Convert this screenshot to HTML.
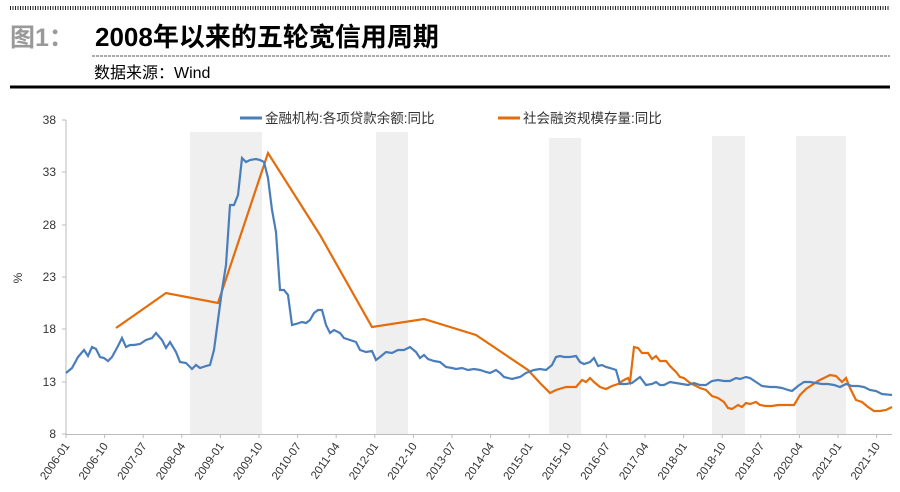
<!DOCTYPE html><html><head><meta charset="utf-8"><style>
body{margin:0;width:900px;height:492px;background:#fff;overflow:hidden;font-family:"Liberation Sans","Noto Sans CJK SC",sans-serif}
</style></head><body>
<svg width="900" height="492" xmlns="http://www.w3.org/2000/svg" style="position:absolute;left:0;top:0">
<line x1="10" y1="8" x2="890" y2="8" stroke="#222" stroke-width="4" stroke-dasharray="1,1.5"/>
<text x="10" y="46" font-size="25" font-weight="bold" fill="#999" font-family="Liberation Sans,Noto Sans CJK SC,sans-serif">图1：</text>
<text x="95" y="46" font-size="26" font-weight="bold" fill="#000" font-family="Liberation Sans,Noto Sans CJK SC,sans-serif">2008年以来的五轮宽信用周期</text>
<line x1="92" y1="56" x2="890" y2="56" stroke="#555" stroke-width="1" stroke-dasharray="3,1"/>
<text x="94" y="78" font-size="16" fill="#000" font-family="Liberation Sans,Noto Sans CJK SC,sans-serif">数据来源：Wind</text>
<line x1="10" y1="87" x2="890" y2="87" stroke="#000" stroke-width="3"/>
<g fill="#efefef">
<rect x="190" y="132" width="72" height="302"/><rect x="376" y="132" width="32" height="302"/><rect x="549" y="138" width="32" height="296"/><rect x="712" y="136" width="33" height="298"/><rect x="796" y="136" width="50" height="298"/></g>
<g stroke="#bbb" stroke-width="1">
<line x1="66" y1="120" x2="66" y2="434"/><line x1="66" y1="434.5" x2="892" y2="434.5"/>
<line x1="62" y1="120" x2="66" y2="120"/><line x1="62" y1="172" x2="66" y2="172"/><line x1="62" y1="225" x2="66" y2="225"/><line x1="62" y1="277" x2="66" y2="277"/><line x1="62" y1="329" x2="66" y2="329"/><line x1="62" y1="382" x2="66" y2="382"/><line x1="62" y1="434" x2="66" y2="434"/>
</g>
<g font-size="12" fill="#333" text-anchor="end" font-family="Liberation Sans,sans-serif">
<text x="56" y="124">38</text><text x="56" y="176">33</text><text x="56" y="229">28</text><text x="56" y="281">23</text><text x="56" y="333">18</text><text x="56" y="386">13</text><text x="56" y="438">8</text></g>
<text x="22" y="278" font-size="12" fill="#333" transform="rotate(-90 22 278)" text-anchor="middle">%</text>
<g id="xt" font-size="11.5" fill="#333" text-anchor="end" font-family="Liberation Sans,sans-serif"></g>
<line x1="240" y1="118" x2="262" y2="118" stroke="#4a7ebb" stroke-width="3"/>
<text x="265" y="123" font-size="13.5" fill="#333">金融机构:各项贷款余额:同比</text>
<line x1="498" y1="118" x2="520" y2="118" stroke="#e46c0a" stroke-width="3"/>
<text x="523" y="123" font-size="13.5" fill="#333">社会融资规模存量:同比</text>
<polyline fill="none" stroke="#e46c0a" stroke-width="2.2" points="116,328 166,293 218,303 268,153 320,235 372,327 424,319 476,335 528,370 540,383 550,393 556,390 566,387 576,387 582,380 586,382 590,378 594,382 600,387 606,389 612,386 618,384 624,380 628,378 630,382 634,347 638,348 642,353 648,353 652,359 656,356 660,361 666,361 670,366 676,372 680,377 684,378 690,383 694,385 700,388 706,390 712,396 718,398 724,402 728,408 732,409 738,405 742,407 746,403 750,404 756,402 760,405 766,406 772,406 778,405 786,405 794,405 800,395 806,389 812,385 818,381 824,378 830,375 836,376 842,382 846,378 850,388 856,400 862,402 868,407 874,411 880,411 886,410 892,407"/>
<polyline fill="none" stroke="#4a7ebb" stroke-width="2.2" points="66,373 72,368 78,357 84,350 88,356 92,347 96,349 100,357 104,358 108,361 112,357 118,346 122,338 126,347 130,345 134,345 140,344 146,340 152,338 156,333 162,340 166,348 170,342 176,352 180,362 186,363 192,369 196,365 200,368 206,366 210,365 214,350 218,320 222,290 226,265 230,205 234,205 238,195 242,158 246,162 250,160 256,159 260,160 264,162 268,178 272,210 276,232 280,290 284,290 288,295 292,325 296,324 302,322 306,323 310,320 314,313 318,310 322,310 326,325 330,333 334,330 340,333 344,338 350,340 356,342 360,350 366,352 372,351 376,360 380,357 386,352 392,353 398,350 404,350 410,347 416,352 420,358 424,355 428,359 434,361 440,362 446,367 452,368 456,369 462,368 468,370 474,369 480,370 486,372 490,373 496,370 500,373 504,377 512,379 520,377 526,373 534,370 540,369 546,370 552,365 556,357 560,356 564,357 570,357 576,356 580,362 584,364 590,362 594,358 598,366 602,365 606,367 610,368 616,370 620,384 626,384 632,383 636,380 640,377 646,385 652,384 656,382 660,385 664,385 670,382 676,383 682,384 688,385 694,383 700,385 706,385 712,381 718,380 724,381 730,381 736,378 740,379 746,377 750,378 756,382 762,386 770,387 776,387 782,388 788,390 792,391 798,386 804,382 810,382 816,383 822,384 828,384 834,385 840,387 846,384 852,386 858,386 864,387 870,390 876,391 882,394 892,395"/>
</svg>
<script>
var L=["2006-01","2006-10","2007-07","2008-04","2009-01","2009-10","2010-07","2011-04","2012-01","2012-10","2013-07","2014-04","2015-01","2015-10","2016-07","2017-04","2018-01","2018-10","2019-07","2020-04","2021-01","2021-10"];
var g=document.getElementById('xt'),ns='http://www.w3.org/2000/svg';
for(var i=0;i<L.length;i++){var x=66+i*38.6;
var t=document.createElementNS(ns,'line');t.setAttribute('x1',x);t.setAttribute('x2',x);t.setAttribute('y1',434);t.setAttribute('y2',438);t.setAttribute('stroke','#bbb');g.parentNode.appendChild(t);
var e=document.createElementNS(ns,'text');e.setAttribute('x',x+4);e.setAttribute('y',446);e.setAttribute('transform','rotate(-55 '+(x+4)+' 446)');e.textContent=L[i];g.appendChild(e);}
</script>
</body></html>
